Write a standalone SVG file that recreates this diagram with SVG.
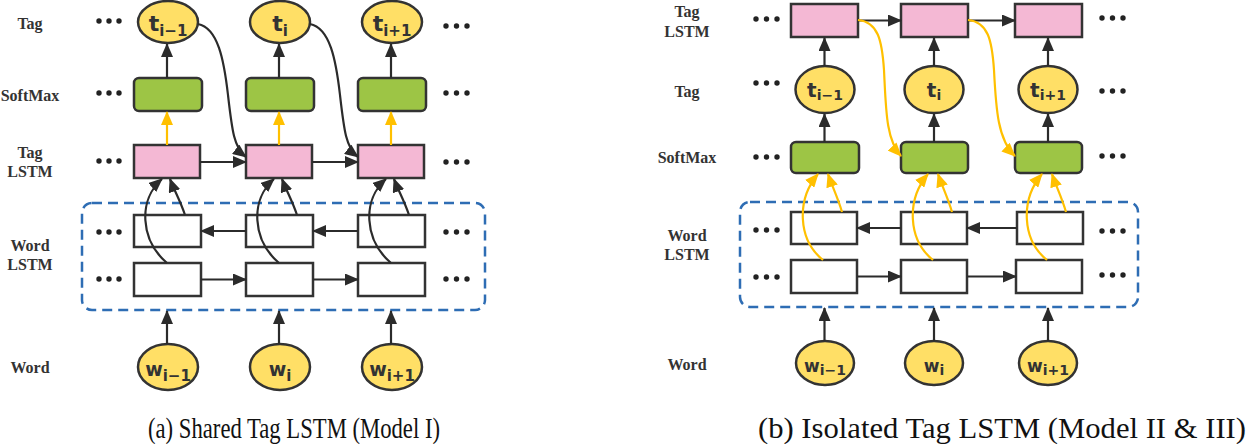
<svg xmlns="http://www.w3.org/2000/svg" width="1256" height="444" viewBox="0 0 1256 444">
<defs>
<style>
.lbl{font-family:"Liberation Serif","Times New Roman",serif;font-weight:bold;font-size:16px;fill:#333;text-anchor:middle}
.cap{font-family:"Liberation Serif","Times New Roman",serif;fill:#111}
.node{stroke:#333;stroke-width:2.5}
.tagc{fill:#FFDF66}
.soft{fill:#9DC545}
.pink{fill:#F4B8D4}
.word{fill:#fff}
.sym{font-family:"DejaVu Sans",sans-serif;font-weight:bold;fill:#333;text-anchor:middle}
.ln{fill:none;stroke:#2b2b2b;stroke-width:2.2}
.yl{fill:none;stroke:#FFC000;stroke-width:2.2}
.dash{fill:none;stroke:#2E6DB4;stroke-width:2.5;stroke-dasharray:10 6}
.dot{fill:#222}
</style>
<marker id="ab" viewBox="0 0 14 12" markerWidth="14" markerHeight="12" refX="13" refY="6" orient="auto" markerUnits="userSpaceOnUse"><path d="M0,0 L14,6 L0,12 z" fill="#2b2b2b"/></marker>
<marker id="ay" viewBox="0 0 14 12" markerWidth="14" markerHeight="12" refX="13" refY="6" orient="auto" markerUnits="userSpaceOnUse"><path d="M0,0 L14,6 L0,12 z" fill="#FFC000"/></marker>
</defs>

<!-- ===== Panel (a) ===== -->
<g id="a-labels">
<text class="lbl" x="30" y="29">Tag</text>
<text class="lbl" x="30" y="101">SoftMax</text>
<text class="lbl" x="30" y="158">Tag</text>
<text class="lbl" x="30" y="177">LSTM</text>
<text class="lbl" x="30" y="251">Word</text>
<text class="lbl" x="30" y="270">LSTM</text>
<text class="lbl" x="30" y="373">Word</text>
</g>
<g id="a-dots">
<circle class="dot" cx="99" cy="21" r="2.7"/><circle class="dot" cx="109" cy="21" r="2.7"/><circle class="dot" cx="119" cy="21" r="2.7"/>
<circle class="dot" cx="99" cy="93" r="2.7"/><circle class="dot" cx="109" cy="93" r="2.7"/><circle class="dot" cx="119" cy="93" r="2.7"/>
<circle class="dot" cx="99" cy="161" r="2.7"/><circle class="dot" cx="109" cy="161" r="2.7"/><circle class="dot" cx="119" cy="161" r="2.7"/>
<circle class="dot" cx="99" cy="232" r="2.7"/><circle class="dot" cx="109" cy="232" r="2.7"/><circle class="dot" cx="119" cy="232" r="2.7"/>
<circle class="dot" cx="99" cy="279" r="2.7"/><circle class="dot" cx="109" cy="279" r="2.7"/><circle class="dot" cx="119" cy="279" r="2.7"/>
<circle class="dot" cx="446" cy="26" r="2.7"/><circle class="dot" cx="456.5" cy="26" r="2.7"/><circle class="dot" cx="467" cy="26" r="2.7"/>
<circle class="dot" cx="446" cy="93" r="2.7"/><circle class="dot" cx="456.5" cy="93" r="2.7"/><circle class="dot" cx="467" cy="93" r="2.7"/>
<circle class="dot" cx="446" cy="162" r="2.7"/><circle class="dot" cx="456.5" cy="162" r="2.7"/><circle class="dot" cx="467" cy="162" r="2.7"/>
<circle class="dot" cx="446" cy="232" r="2.7"/><circle class="dot" cx="456.5" cy="232" r="2.7"/><circle class="dot" cx="467" cy="232" r="2.7"/>
<circle class="dot" cx="446" cy="279" r="2.7"/><circle class="dot" cx="456.5" cy="279" r="2.7"/><circle class="dot" cx="467" cy="279" r="2.7"/>
</g>
<rect id="a-wordbox" class="dash" x="82" y="203" width="403" height="107" rx="10"/>

<g id="a-t1"><ellipse class="node tagc" cx="168" cy="22" rx="30" ry="21"/><text class="sym" x="168" y="31" font-size="22">t<tspan font-size="15" dy="5">i−1</tspan></text></g>
<g id="a-t2"><ellipse class="node tagc" cx="280" cy="22" rx="30" ry="21"/><text class="sym" x="280" y="31" font-size="22">t<tspan font-size="15" dy="5">i</tspan></text></g>
<g id="a-t3"><ellipse class="node tagc" cx="392" cy="22" rx="30" ry="21"/><text class="sym" x="392" y="31" font-size="22">t<tspan font-size="15" dy="5">i+1</tspan></text></g>

<g id="a-s1"><rect class="node soft" x="134" y="78" width="68" height="33" rx="5"/></g>
<g id="a-s2"><rect class="node soft" x="246" y="78" width="68" height="33" rx="5"/></g>
<g id="a-s3"><rect class="node soft" x="358" y="78" width="68" height="33" rx="5"/></g>

<g id="a-p1"><rect class="node pink" x="134" y="145" width="66" height="33"/></g>
<g id="a-p2"><rect class="node pink" x="246" y="145" width="66" height="33"/></g>
<g id="a-p3"><rect class="node pink" x="358" y="145" width="66" height="33"/></g>

<g id="a-b1"><rect class="node word" x="134" y="215" width="67" height="32"/></g>
<g id="a-b2"><rect class="node word" x="246" y="215" width="67" height="32"/></g>
<g id="a-b3"><rect class="node word" x="358" y="215" width="67" height="32"/></g>
<g id="a-f1"><rect class="node word" x="134" y="263" width="67" height="33"/></g>
<g id="a-f2"><rect class="node word" x="246" y="263" width="67" height="33"/></g>
<g id="a-f3"><rect class="node word" x="358" y="263" width="67" height="33"/></g>

<g id="a-w1"><ellipse class="node tagc" cx="168" cy="367" rx="30" ry="23"/><text class="sym" x="168" y="376" font-size="19">w<tspan font-size="15" dy="5">i−1</tspan></text></g>
<g id="a-w2"><ellipse class="node tagc" cx="280" cy="367" rx="30" ry="23"/><text class="sym" x="280" y="376" font-size="19">w<tspan font-size="15" dy="5">i</tspan></text></g>
<g id="a-w3"><ellipse class="node tagc" cx="392" cy="367" rx="30" ry="23"/><text class="sym" x="392" y="376" font-size="19">w<tspan font-size="15" dy="5">i+1</tspan></text></g>

<g id="a-connectors">
<path class="ln" marker-end="url(#ab)" d="M167,78 V44"/>
<path class="ln" marker-end="url(#ab)" d="M279,78 V44"/>
<path class="ln" marker-end="url(#ab)" d="M391,78 V44"/>
<path class="yl" marker-end="url(#ay)" d="M167,145 V112"/>
<path class="yl" marker-end="url(#ay)" d="M279,145 V112"/>
<path class="yl" marker-end="url(#ay)" d="M391,145 V112"/>
<path class="ln" marker-end="url(#ab)" d="M200,162 H246"/>
<path class="ln" marker-end="url(#ab)" d="M312,162 H358"/>
<path class="ln" marker-end="url(#ab)" d="M246,231 H201"/>
<path class="ln" marker-end="url(#ab)" d="M358,231 H313"/>
<path class="ln" marker-end="url(#ab)" d="M201,279.5 H246"/>
<path class="ln" marker-end="url(#ab)" d="M313,279.5 H358"/>
<path class="ln" marker-end="url(#ab)" d="M198,24 C218,28 224,60 228,95 C232,130 234,148 246,157"/>
<path class="ln" marker-end="url(#ab)" d="M310,24 C330,28 336,60 340,95 C344,130 346,148 358,157"/>
<path class="ln" marker-end="url(#ab)" d="M185,215 C180,200 174,190 170,179"/>
<path class="ln" marker-end="url(#ab)" d="M297,215 C292,200 286,190 282,179"/>
<path class="ln" marker-end="url(#ab)" d="M409,215 C404,200 398,190 394,179"/>
<path class="ln" marker-end="url(#ab)" d="M167,263 C140,240 138,200 162,179"/>
<path class="ln" marker-end="url(#ab)" d="M279,263 C252,240 250,200 274,179"/>
<path class="ln" marker-end="url(#ab)" d="M391,263 C364,240 362,200 386,179"/>
<path class="ln" marker-end="url(#ab)" d="M167,344 V311"/>
<path class="ln" marker-end="url(#ab)" d="M279,344 V311"/>
<path class="ln" marker-end="url(#ab)" d="M391,344 V311"/>
</g>
<text id="a-caption" class="cap" x="148" y="438" font-size="29" textLength="292" lengthAdjust="spacingAndGlyphs">(a) Shared Tag LSTM (Model I)</text>

<!-- ===== Panel (b) ===== -->
<g id="b-labels">
<text class="lbl" x="687" y="17">Tag</text>
<text class="lbl" x="687" y="37">LSTM</text>
<text class="lbl" x="687" y="97">Tag</text>
<text class="lbl" x="687" y="163">SoftMax</text>
<text class="lbl" x="687" y="241">Word</text>
<text class="lbl" x="687" y="260">LSTM</text>
<text class="lbl" x="687" y="370">Word</text>
</g>
<g id="b-dots">
<circle class="dot" cx="756" cy="19" r="2.7"/><circle class="dot" cx="766.5" cy="19" r="2.7"/><circle class="dot" cx="777" cy="19" r="2.7"/>
<circle class="dot" cx="756" cy="83" r="2.7"/><circle class="dot" cx="766.5" cy="83" r="2.7"/><circle class="dot" cx="777" cy="83" r="2.7"/>
<circle class="dot" cx="756" cy="157" r="2.7"/><circle class="dot" cx="766.5" cy="157" r="2.7"/><circle class="dot" cx="777" cy="157" r="2.7"/>
<circle class="dot" cx="756" cy="230" r="2.7"/><circle class="dot" cx="766.5" cy="230" r="2.7"/><circle class="dot" cx="777" cy="230" r="2.7"/>
<circle class="dot" cx="756" cy="277" r="2.7"/><circle class="dot" cx="766.5" cy="277" r="2.7"/><circle class="dot" cx="777" cy="277" r="2.7"/>
<circle class="dot" cx="1102" cy="18" r="2.7"/><circle class="dot" cx="1112.5" cy="18" r="2.7"/><circle class="dot" cx="1123" cy="18" r="2.7"/>
<circle class="dot" cx="1102" cy="91" r="2.7"/><circle class="dot" cx="1112.5" cy="91" r="2.7"/><circle class="dot" cx="1123" cy="91" r="2.7"/>
<circle class="dot" cx="1102" cy="156" r="2.7"/><circle class="dot" cx="1112.5" cy="156" r="2.7"/><circle class="dot" cx="1123" cy="156" r="2.7"/>
<circle class="dot" cx="1102" cy="231" r="2.7"/><circle class="dot" cx="1112.5" cy="231" r="2.7"/><circle class="dot" cx="1123" cy="231" r="2.7"/>
<circle class="dot" cx="1102" cy="275" r="2.7"/><circle class="dot" cx="1112.5" cy="275" r="2.7"/><circle class="dot" cx="1123" cy="275" r="2.7"/>
</g>
<rect id="b-wordbox" class="dash" x="740" y="202" width="398" height="105" rx="10"/>

<g id="b-p1"><rect class="node pink" x="791" y="4" width="67" height="33"/></g>
<g id="b-p2"><rect class="node pink" x="901" y="4" width="67" height="33"/></g>
<g id="b-p3"><rect class="node pink" x="1015" y="4" width="67" height="33"/></g>

<g id="b-t1"><ellipse class="node tagc" cx="825" cy="89.5" rx="29.5" ry="23.5"/><text class="sym" x="825" y="97" font-size="20">t<tspan font-size="14" dy="3">i−1</tspan></text></g>
<g id="b-t2"><ellipse class="node tagc" cx="934" cy="89.5" rx="29.5" ry="23.5"/><text class="sym" x="934" y="97" font-size="20">t<tspan font-size="14" dy="3">i</tspan></text></g>
<g id="b-t3"><ellipse class="node tagc" cx="1048" cy="89.5" rx="29.5" ry="23.5"/><text class="sym" x="1048" y="97" font-size="20">t<tspan font-size="14" dy="3">i+1</tspan></text></g>

<g id="b-s1"><rect class="node soft" x="791" y="142" width="68" height="31" rx="5"/></g>
<g id="b-s2"><rect class="node soft" x="901" y="142" width="67" height="31" rx="5"/></g>
<g id="b-s3"><rect class="node soft" x="1015" y="142" width="67" height="31" rx="5"/></g>

<g id="b-b1"><rect class="node word" x="791" y="212" width="66" height="32"/></g>
<g id="b-b2"><rect class="node word" x="901" y="212" width="66" height="32"/></g>
<g id="b-b3"><rect class="node word" x="1017" y="212" width="66" height="32"/></g>
<g id="b-f1"><rect class="node word" x="791" y="260" width="66" height="33"/></g>
<g id="b-f2"><rect class="node word" x="901" y="260" width="66" height="33"/></g>
<g id="b-f3"><rect class="node word" x="1016" y="260" width="66" height="33"/></g>

<g id="b-w1"><ellipse class="node tagc" cx="825" cy="363" rx="29" ry="22"/><text class="sym" x="825" y="372" font-size="17">w<tspan font-size="14" dy="3">i−1</tspan></text></g>
<g id="b-w2"><ellipse class="node tagc" cx="934" cy="363" rx="29" ry="22"/><text class="sym" x="934" y="372" font-size="17">w<tspan font-size="14" dy="3">i</tspan></text></g>
<g id="b-w3"><ellipse class="node tagc" cx="1048" cy="363" rx="29" ry="22"/><text class="sym" x="1048" y="372" font-size="17">w<tspan font-size="14" dy="3">i+1</tspan></text></g>

<g id="b-connectors">
<path class="ln" marker-end="url(#ab)" d="M858,20.5 H901"/>
<path class="ln" marker-end="url(#ab)" d="M968,20.5 H1015"/>
<path class="ln" marker-end="url(#ab)" d="M824.5,66 V38"/>
<path class="ln" marker-end="url(#ab)" d="M934,66 V38"/>
<path class="ln" marker-end="url(#ab)" d="M1048,66 V38"/>
<path class="ln" marker-end="url(#ab)" d="M824.5,142 V114"/>
<path class="ln" marker-end="url(#ab)" d="M934,142 V114"/>
<path class="ln" marker-end="url(#ab)" d="M1048,142 V114"/>
<path class="ln" marker-end="url(#ab)" d="M901,228 H857"/>
<path class="ln" marker-end="url(#ab)" d="M1017,228 H967"/>
<path class="ln" marker-end="url(#ab)" d="M857,276.5 H901"/>
<path class="ln" marker-end="url(#ab)" d="M967,276.5 H1016"/>
<path class="ln" marker-end="url(#ab)" d="M824.5,341 V308"/>
<path class="ln" marker-end="url(#ab)" d="M934,341 V308"/>
<path class="ln" marker-end="url(#ab)" d="M1048,341 V308"/>
<path class="yl" marker-end="url(#ay)" d="M858,20 C878,22 882,40 884,70 C886,110 886,140 901,156"/>
<path class="yl" marker-end="url(#ay)" d="M968,20 C988,22 992,40 994,70 C996,110 998,140 1015,156"/>
<path class="yl" marker-end="url(#ay)" d="M842,212 C838,198 832,186 828,174"/>
<path class="yl" marker-end="url(#ay)" d="M952,212 C948,198 942,186 938,174"/>
<path class="yl" marker-end="url(#ay)" d="M1066,212 C1062,198 1056,186 1052,174"/>
<path class="yl" marker-end="url(#ay)" d="M823,260 C798,240 796,200 818,174"/>
<path class="yl" marker-end="url(#ay)" d="M933,260 C908,240 906,200 928,174"/>
<path class="yl" marker-end="url(#ay)" d="M1047,260 C1022,240 1020,200 1042,174"/>
</g>
<text id="b-caption" class="cap" x="758" y="438" font-size="29" textLength="488" lengthAdjust="spacingAndGlyphs">(b) Isolated Tag LSTM (Model II &amp; III)</text>
</svg>
